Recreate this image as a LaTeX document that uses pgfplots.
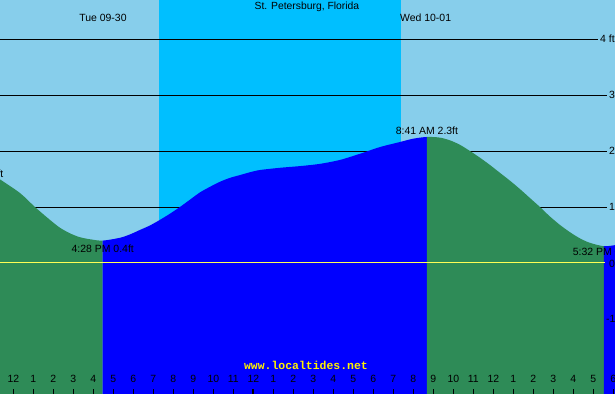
\documentclass[border=0pt]{standalone}
\usepackage{fontspec}
\setmainfont{Liberation Sans}
\setmonofont{Liberation Mono}
\usepackage{pgfplots}
\pgfplotsset{compat=1.18}
\usepgfplotslibrary{fillbetween}
\tikzset{fill between/on layer=main}
\definecolor{skyb}{HTML}{87CEEB}
\definecolor{dsky}{HTML}{00BFFF}
\definecolor{tideblue}{HTML}{0000FF}
\definecolor{seag}{HTML}{2E8B57}
\definecolor{zeroline}{HTML}{FFFF55}
\begin{document}
\begin{tikzpicture}
\begin{axis}[
  name=ax,
  width=615bp, height=394bp, scale only axis,
  xmin=-0.6667, xmax=30.0833, ymin=-2.339, ymax=4.696,
  axis background/.style={fill=skyb},
  axis x line*=bottom, axis y line=none,
  x axis line style={draw=none},
  ytick=\empty,
  xtick={0,...,30},
  xticklabels={12,1,2,3,4,5,6,7,8,9,10,11,12,1,2,3,4,5,6,7,8,9,10,11,12,1,2,3,4,5,6},
  tick align=inside,
  major tick length=5bp,
  tick style={black, line width=0.9bp},
  xticklabel style={anchor=base, yshift=11bp, font=\fontsize{10.5}{12}\selectfont},
  extra x ticks={12},
  extra x tick labels={},
  extra x tick style={tick style={black, line width=2.2bp}},
  axis on top,
  clip=true,
]
% night
\addplot[fill=dsky, draw=none] coordinates {(7.28,-3) (7.28,5) (19.38,5) (19.38,-3)} -- cycle;
% grid lines (behind tide)
\addplot[black, line width=0.9bp] coordinates {(-0.7,4) (29.23,4)};
\addplot[black, line width=0.9bp] coordinates {(-0.7,3) (29.68,3)};
\addplot[black, line width=0.9bp] coordinates {(-0.7,2) (29.68,2)};
\addplot[black, line width=0.9bp] coordinates {(-0.7,1) (29.68,1)};
% bottom path and tide curve
\addplot[draw=none, name path=bot] coordinates {(-1,-3) (31,-3)};
\addplot[draw=none, smooth, name path=tide] coordinates {
 (-0.7,1.50) (0.33,1.25) (1.08,1.00) (1.83,0.77) (2.33,0.63) (2.83,0.53) (3.33,0.46) (3.9,0.42) (4.47,0.40)
 (5.33,0.45) (5.83,0.51) (6.33,0.59) (6.83,0.67) (7.33,0.77) (7.83,0.88) (8.33,1.00) (8.83,1.13) (9.33,1.26) (9.83,1.36) (10.33,1.45) (10.83,1.52) (11.33,1.57) (11.83,1.62) (12.33,1.66) (13.33,1.70) (14.33,1.73) (15.33,1.77) (16.33,1.84) (17.33,1.95) (18.33,2.07) (19.33,2.16) (20.0,2.22) (20.68,2.25)
 (21.3,2.24) (21.83,2.19) (22.33,2.11) (22.83,2.00) (23.33,1.88) (23.83,1.75) (24.33,1.61) (24.83,1.47) (25.33,1.32) (25.83,1.16) (26.33,1.00) (26.83,0.83) (27.33,0.68) (27.83,0.55) (28.33,0.44) (28.83,0.36) (29.53,0.30) (30.1,0.32)};
\addplot[seag] fill between[of=tide and bot, soft clip={domain=-0.7:4.47}];
\addplot[tideblue] fill between[of=tide and bot, soft clip={domain=4.47:20.68}];
\addplot[seag] fill between[of=tide and bot, soft clip={domain=20.68:29.53}];
\addplot[tideblue] fill between[of=tide and bot, soft clip={domain=29.53:30.1}];
% zero line
\addplot[zeroline, line width=1bp] coordinates {(-0.7,0) (29.58,0)};
% texts
\node[anchor=base, font=\fontsize{10.4}{12}\selectfont] at (axis cs:14.68,4.518) {St. Petersburg, Florida};
\node[anchor=base, font=\fontsize{10.5}{12}\selectfont] at (axis cs:4.48,4.32) {Tue 09-30};
\node[anchor=base west, inner sep=0pt, font=\fontsize{10.5}{12}\selectfont] at (axis cs:19.33,4.32) {Wed 10-01};
\node[anchor=base west, inner sep=0pt, font=\fontsize{10.5}{12}\selectfont] at (axis cs:29.33,3.93) {4 ft};
\node[anchor=base west, inner sep=0pt, font=\fontsize{10.5}{12}\selectfont] at (axis cs:29.78,2.93) {3};
\node[anchor=base west, inner sep=0pt, font=\fontsize{10.5}{12}\selectfont] at (axis cs:29.78,1.93) {2};
\node[anchor=base west, inner sep=0pt, font=\fontsize{10.5}{12}\selectfont] at (axis cs:29.78,0.93) {1};
\node[anchor=base west, inner sep=0pt, font=\fontsize{10.5}{12}\selectfont] at (axis cs:29.78,-0.08) {0};
\node[anchor=base west, inner sep=0pt, font=\fontsize{10.5}{12}\selectfont] at (axis cs:29.63,-1.07) {-1};
\node[anchor=base, inner sep=0pt, font=\fontsize{10.5}{12}\selectfont] at (axis cs:4.47,0.196) {4:28 PM 0.4ft};
\node[anchor=base, inner sep=0pt, font=\fontsize{10.5}{12}\selectfont] at (axis cs:20.68,2.286) {8:41 AM 2.3ft};
\node[anchor=base, inner sep=0pt, font=\fontsize{10.5}{12}\selectfont] at (axis cs:29.53,0.125) {5:32 PM 0.3ft};
\node[anchor=base east, inner sep=0pt, font=\fontsize{10.5}{12}\selectfont] at (axis cs:-0.49,1.52) {10:05 AM 1.5ft};
\node[anchor=base, inner sep=0pt, text=yellow, font=\fontsize{11.5}{13}\selectfont\ttfamily\bfseries] at (axis cs:14.63,-1.91) {www.localtides.net};
\end{axis}
\pgfresetboundingbox
\useasboundingbox (ax.south west) rectangle (ax.north east);
\end{tikzpicture}
\end{document}
